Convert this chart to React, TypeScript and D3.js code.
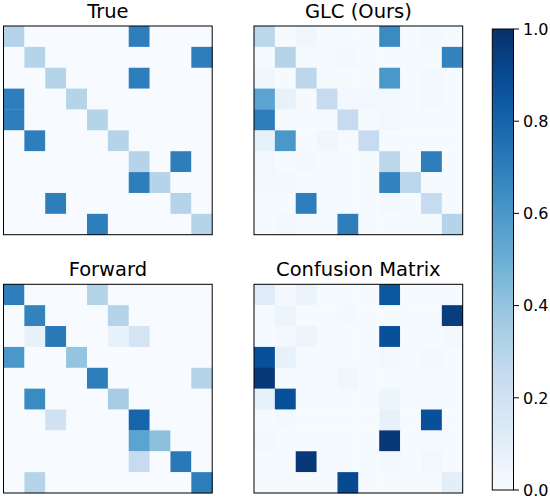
import React from 'react';
import * as d3 from 'd3';

// 10x10 transition matrices, rows from top
const trueMatrix = [
  [0.3, 0, 0, 0, 0, 0, 0.7, 0, 0, 0],
  [0, 0.3, 0, 0, 0, 0, 0, 0, 0, 0.7],
  [0, 0, 0.3, 0, 0, 0, 0.7, 0, 0, 0],
  [0.7, 0, 0, 0.3, 0, 0, 0, 0, 0, 0],
  [0.7, 0, 0, 0, 0.3, 0, 0, 0, 0, 0],
  [0, 0.7, 0, 0, 0, 0.3, 0, 0, 0, 0],
  [0, 0, 0, 0, 0, 0, 0.3, 0, 0.7, 0],
  [0, 0, 0, 0, 0, 0, 0.7, 0.3, 0, 0],
  [0, 0, 0.7, 0, 0, 0, 0, 0, 0.3, 0],
  [0, 0, 0, 0, 0.7, 0, 0, 0, 0, 0.3],
];

const glcMatrix = [
  [0.28, 0.01, 0.04, 0.01, 0.01, 0.01, 0.65, 0.01, 0.02, 0.01],
  [0.01, 0.3, 0.01, 0.01, 0.02, 0.01, 0.01, 0.01, 0.01, 0.68],
  [0.04, 0.01, 0.28, 0.01, 0.01, 0.01, 0.6, 0.01, 0.02, 0.01],
  [0.55, 0.08, 0.01, 0.25, 0.02, 0.03, 0.03, 0.01, 0.02, 0.01],
  [0.7, 0.01, 0.01, 0.01, 0.25, 0.01, 0.03, 0.01, 0.01, 0.01],
  [0.08, 0.6, 0.01, 0.04, 0.01, 0.25, 0.01, 0.01, 0.01, 0.01],
  [0.03, 0.01, 0.02, 0.01, 0.01, 0.01, 0.28, 0.01, 0.7, 0.01],
  [0.02, 0.02, 0.01, 0.01, 0.01, 0.01, 0.68, 0.28, 0.01, 0.01],
  [0.01, 0.01, 0.7, 0.01, 0.01, 0.01, 0.02, 0.01, 0.25, 0.01],
  [0.01, 0.02, 0.01, 0.01, 0.7, 0.01, 0.01, 0.01, 0.01, 0.3],
];

const forwardMatrix = [
  [0.7, 0, 0, 0, 0.3, 0, 0, 0, 0, 0],
  [0, 0.68, 0, 0, 0, 0.3, 0, 0, 0, 0],
  [0, 0.08, 0.72, 0, 0, 0.08, 0.18, 0, 0, 0],
  [0.6, 0, 0, 0.4, 0, 0, 0, 0, 0, 0],
  [0, 0, 0, 0, 0.7, 0, 0, 0, 0, 0.3],
  [0, 0.65, 0, 0, 0, 0.35, 0, 0, 0, 0],
  [0, 0, 0.2, 0, 0, 0, 0.8, 0, 0, 0],
  [0, 0, 0, 0, 0, 0, 0.55, 0.42, 0, 0],
  [0, 0, 0, 0, 0, 0, 0.25, 0, 0.72, 0],
  [0, 0.3, 0, 0, 0, 0, 0, 0, 0, 0.7],
];

const confusionMatrix = [
  [0.12, 0.02, 0.06, 0.01, 0.01, 0.01, 0.85, 0.01, 0.01, 0.01],
  [0.01, 0.05, 0.01, 0.01, 0.02, 0.01, 0.01, 0.01, 0.01, 0.95],
  [0.01, 0.02, 0.05, 0.01, 0.01, 0.01, 0.88, 0.01, 0.01, 0.02],
  [0.88, 0.08, 0.01, 0.01, 0.01, 0.01, 0.03, 0.01, 0.02, 0.01],
  [0.97, 0.01, 0.01, 0.01, 0.04, 0.01, 0.01, 0.01, 0.01, 0.01],
  [0.08, 0.88, 0.01, 0.01, 0.01, 0.01, 0.05, 0.01, 0.01, 0.01],
  [0.01, 0.02, 0.01, 0.01, 0.01, 0.01, 0.08, 0.01, 0.88, 0.01],
  [0.02, 0.01, 0.01, 0.01, 0.01, 0.01, 0.97, 0.01, 0.01, 0.01],
  [0.01, 0.01, 0.97, 0.01, 0.01, 0.01, 0.02, 0.01, 0.03, 0.01],
  [0.01, 0.01, 0.01, 0.01, 0.9, 0.01, 0.01, 0.01, 0.01, 0.1],
];

const panelTitles = ['True', 'GLC (Ours)', 'Forward', 'Confusion Matrix'];
const colorTicks = [0, 0.2, 0.4, 0.6, 0.8, 1.0];

// matplotlib "Blues" (linear between the 9 ColorBrewer anchors)
const bluesAnchors = ['#f7fbff', '#deebf7', '#c6dbef', '#9ecae1', '#6baed6', '#4292c6', '#2171b5', '#08519c', '#08306b'];
const blues = d3.piecewise(d3.interpolateRgb, bluesAnchors);
const color = (v: number) => blues(Math.max(0, Math.min(1, v)));

const font = 'DejaVu Sans, sans-serif';
const size = 208.7;
const panels = [
  { x: 3.5, y: 26, data: trueMatrix },
  { x: 254, y: 26, data: glcMatrix },
  { x: 3.5, y: 284.3, data: forwardMatrix },
  { x: 254, y: 284.3, data: confusionMatrix },
];

const idx = d3.range(10);

function Heatmap({ x, y, data, title }: { x: number; y: number; data: number[][]; title: string }) {
  const xs = d3.scaleBand<number>().domain(idx).range([0, size]);
  const ys = d3.scaleBand<number>().domain(idx).range([0, size]);
  return (
    <g transform={`translate(${x},${y})`}>
      {data.map((row, r) =>
        row.map((v, c) => (
          <rect
            key={`${r}-${c}`}
            x={xs(c)}
            y={ys(r)}
            width={xs.bandwidth() + 0.3}
            height={ys.bandwidth() + 0.3}
            fill={color(v)}
          />
        ))
      )}
      <rect x={0} y={0} width={size} height={size} fill="none" stroke="#000" strokeWidth={1} />
      <text x={size / 2} y={-8.4} textAnchor="middle" fontFamily={font} fontSize={19.5} fill="#000">
        {title}
      </text>
    </g>
  );
}

function ColorBar() {
  const x0 = 492.3;
  const w = 21.2;
  const cy = d3.scaleLinear().domain([0, 1]).range([490, 29]);
  const stops = d3.range(0, 1.0001, 0.05);
  return (
    <g>
      <defs>
        <linearGradient id="cbar" x1="0" y1="1" x2="0" y2="0">
          {stops.map((s) => (
            <stop key={s} offset={s} stopColor={color(s)} />
          ))}
        </linearGradient>
      </defs>
      <rect x={x0} y={cy(1)} width={w} height={cy(0) - cy(1)} fill="url(#cbar)" stroke="#000" strokeWidth={1} />
      {colorTicks.map((t) => (
        <g key={t}>
          <line x1={x0 + w} x2={x0 + w + 5.5} y1={cy(t)} y2={cy(t)} stroke="#000" strokeWidth={1} />
          <text x={x0 + w + 9.5} y={cy(t)} dy="0.36em" fontFamily={font} fontSize={16} fill="#000">
            {t.toFixed(1)}
          </text>
        </g>
      ))}
    </g>
  );
}

export default function App() {
  return (
    <svg width={550} height={498} style={{ position: 'absolute', left: 0, top: 0, background: '#fff' }}>
      {panels.map((p, i) => (
        <Heatmap key={i} x={p.x} y={p.y} data={p.data} title={panelTitles[i]} />
      ))}
      <ColorBar />
    </svg>
  );
}
